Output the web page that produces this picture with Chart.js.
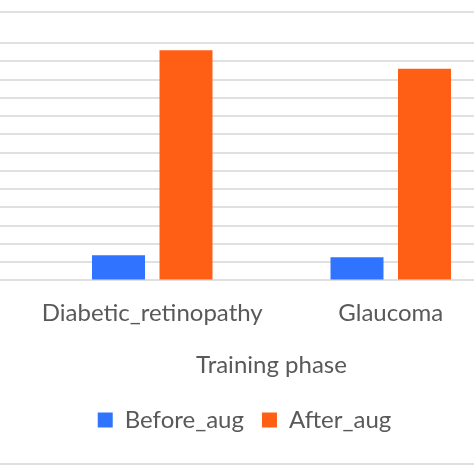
<!DOCTYPE html>
<html lang="en">
<head>
  <meta charset="UTF-8">
  <title>Training phase</title>
  <script src="https://cdn.jsdelivr.net/npm/chart.js"></script>
  <style>
    html, body { margin: 0; padding: 0; background: #fff; overflow: hidden; }
    body { width: 474px; height: 474px; position: relative; }
    #frame { position: absolute; left: 0; top: 11px; width: 474px; height: 450px;
             border-top: 2px solid #e0e0e0; border-bottom: 2px solid #e0e0e0; }
    canvas { position: absolute; left: -21px; top: 13px; }
  </style>
</head>
<body>
  <div id="frame"></div>
  <canvas id="phaseChart" width="531" height="447"></canvas>

  <script>
    // values, in gridline steps
    const phases = ['Diabetic_retinopathy', 'Glaucoma'];
    const beforeAug = [1.38, 1.27];
    const afterAug = [12.6, 11.59];
    const seriesNames = ['Before_aug', 'After_aug'];
    const axisTitle = 'Training phase';

    const blue = '#2F73FF';
    const orange = '#FF5F15';
    const textGrey = '#595959';
    const fontFamily = 'Lato, "Open Sans", sans-serif';

    const ctx = document.getElementById('phaseChart').getContext('2d');

    new Chart(ctx, {
      type: 'bar',
      data: {
        labels: phases,
        datasets: [
          { label: seriesNames[0], data: beforeAug, backgroundColor: blue },
          { label: seriesNames[1], data: afterAug, backgroundColor: orange }
        ]
      },
      options: {
        responsive: false,
        animation: false,
        categoryPercentage: 0.566,
        barPercentage: 0.785,
        layout: { padding: { top: 30, left: 0, right: 0, bottom: 18 } },
        plugins: {
          tooltip: { enabled: false },
          legend: {
            position: 'bottom',
            labels: {
              color: textGrey,
              font: { family: fontFamily, size: 24 },
              boxWidth: 15,
              boxHeight: 15,
              padding: 18
            }
          }
        },
        scales: {
          x: {
            grid: { display: false, drawTicks: false },
            border: { display: false },
            ticks: { color: textGrey, font: { family: fontFamily, size: 24 }, padding: 18 },
            title: {
              display: true,
              text: axisTitle,
              color: textGrey,
              font: { family: fontFamily, size: 24 },
              padding: { top: 6, bottom: 10 }
            }
          },
          y: {
            min: 0,
            max: 13,
            ticks: { display: false, stepSize: 1 },
            border: { display: false },
            grid: { color: '#e0e0e0', lineWidth: 2, drawTicks: true, tickLength: 54 }
          }
        }
      }
    });
  </script>
</body>
</html>
